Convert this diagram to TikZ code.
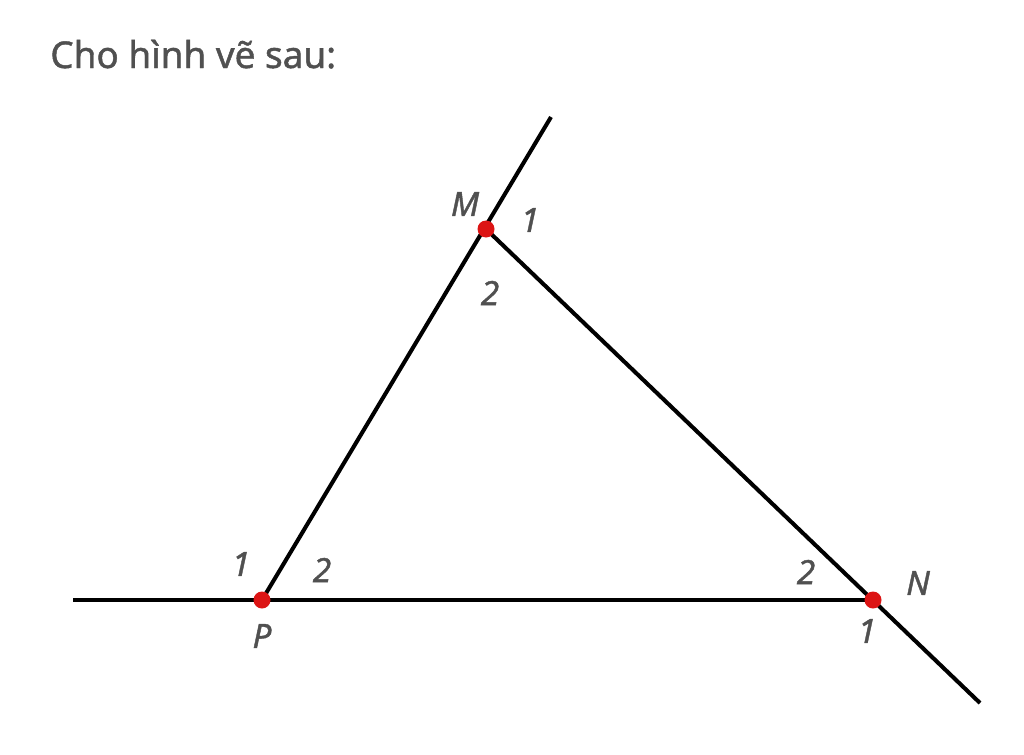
\documentclass[tikz,border=0pt]{standalone}
\usepackage{fontspec}
\setmainfont{Noto Sans}
\newfontfamily\medfont[FakeBold=1.2]{Noto Sans}
\definecolor{labelgray}{RGB}{80,80,80}
\definecolor{dotred}{RGB}{220,20,20}
\tikzset{
	seg/.style={line width=2.3pt,black},
	pt/.style={circle,fill=dotred,inner sep=0pt,minimum size=0.34cm},
	lbl/.style={text=labelgray,font=\medfont\fontsize{19}{19}\selectfont\itshape,inner sep=0pt}
}
\begin{document}
\begin{tikzpicture}[x=0.02cm,y=-0.02cm]
	\useasboundingbox (0,0) rectangle (1024,754);
	\node[anchor=base west,inner sep=0pt,text=labelgray,font=\medfont\fontsize{21}{21}\selectfont] (title) at (50,68) {Cho hình vẽ sau:};

	\coordinate (M) at (486,229);
	\coordinate (N) at (873,600);
	\coordinate (P) at (262,600);
	\coordinate (Mend) at (551,117);
	\coordinate (Nend) at (980,703);
	\coordinate (Pend) at (73,600);

	\draw[seg] (P) -- (Mend);
	\draw[seg] (M) -- (Nend);
	\draw[seg] (Pend) -- (N);

	\node[pt] (Mdot) at (M) {};
	\node[pt] (Ndot) at (N) {};
	\node[pt] (Pdot) at (P) {};

	\node[lbl] (Mname) at (465,204) {M};
	\node[lbl] (M1) at (530,220) {1};
	\node[lbl] (M2) at (490,293) {2};
	\node[lbl] (P1) at (241,564) {1};
	\node[lbl] (P2) at (322,570) {2};
	\node[lbl] (Pname) at (262,636) {P};
	\node[lbl] (N2) at (806,572) {2};
	\node[lbl] (Nname) at (918,583) {N};
	\node[lbl] (N1) at (867,631) {1};
\end{tikzpicture}
\end{document}
